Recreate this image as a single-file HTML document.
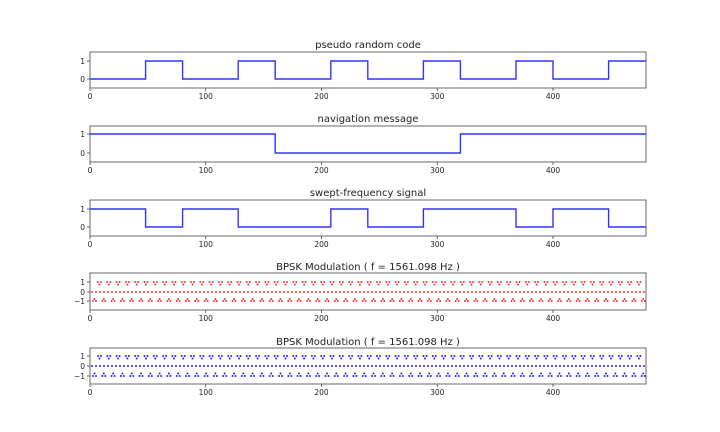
<!DOCTYPE html>
<html><head><meta charset="utf-8"><style>
body{margin:0;background:#fff}
svg{display:block}
text{font-family:"DejaVu Sans","Liberation Sans",sans-serif;fill:#222}
.t{font-size:10px;text-anchor:middle}
.k{font-size:7.5px}
.kx{text-anchor:middle}
.ky{text-anchor:end}
.box{fill:none;stroke:#444;stroke-width:0.8}
.sig{fill:none;stroke:#3333ff;stroke-width:1.4}
.tick{stroke:#444;stroke-width:0.8}
</style></head><body>
<svg width="720" height="432" viewBox="0 0 720 432" xmlns="http://www.w3.org/2000/svg">
<rect width="720" height="432" fill="#fff"/>
<defs>
<g id="xt">
<line class="tick" x1="90" y1="0" x2="90" y2="3"/>
<line class="tick" x1="205.75" y1="0" x2="205.75" y2="3"/>
<line class="tick" x1="321.5" y1="0" x2="321.5" y2="3"/>
<line class="tick" x1="437.25" y1="0" x2="437.25" y2="3"/>
<line class="tick" x1="553" y1="0" x2="553" y2="3"/>
</g>
</defs>

<text class="t" x="368" y="48">pseudo random code</text>
<rect class="box" x="90" y="52" width="556" height="36"/>
<path class="sig" d="M90,79 H145.6 V61 H182.6 V79 H238.2 V61 H275.2 V79 H330.8 V61 H367.8 V79 H423.4 V61 H460.4 V79 H516 V61 H553 V79 H608.6 V61 H646"/>
<g transform="translate(0,88)"><use href="#xt"/></g>
<text class="k ky" x="85" y="64">1</text><text class="k ky" x="85" y="82">0</text>
<line class="tick" x1="87" y1="61" x2="90" y2="61"/><line class="tick" x1="87" y1="79" x2="90" y2="79"/>
<g class="k kx"><text x="90" y="99">0</text><text x="205.75" y="99">100</text><text x="321.5" y="99">200</text><text x="437.25" y="99">300</text><text x="553" y="99">400</text></g>

<text class="t" x="368" y="122">navigation message</text>
<rect class="box" x="90" y="126" width="556" height="36"/>
<path class="sig" d="M90,134 H275.2 V153 H460.4 V134 H646"/>
<g transform="translate(0,162)"><use href="#xt"/></g>
<text class="k ky" x="85" y="137">1</text><text class="k ky" x="85" y="156">0</text>
<line class="tick" x1="87" y1="134" x2="90" y2="134"/><line class="tick" x1="87" y1="153" x2="90" y2="153"/>
<g class="k kx"><text x="90" y="173">0</text><text x="205.75" y="173">100</text><text x="321.5" y="173">200</text><text x="437.25" y="173">300</text><text x="553" y="173">400</text></g>

<text class="t" x="368" y="196">swept-frequency signal</text>
<rect class="box" x="90" y="200" width="556" height="36"/>
<path class="sig" d="M90,209 H145.6 V227 H182.6 V209 H238.2 V227 H330.8 V209 H367.8 V227 H423.4 V209 H516 V227 H553 V209 H608.6 V227 H646"/>
<g transform="translate(0,236)"><use href="#xt"/></g>
<text class="k ky" x="85" y="212">1</text><text class="k ky" x="85" y="230">0</text>
<line class="tick" x1="87" y1="209" x2="90" y2="209"/><line class="tick" x1="87" y1="227" x2="90" y2="227"/>
<g class="k kx"><text x="90" y="247">0</text><text x="205.75" y="247">100</text><text x="321.5" y="247">200</text><text x="437.25" y="247">300</text><text x="553" y="247">400</text></g>

<text class="t" x="368" y="270">BPSK Modulation ( f = 1561.098 Hz  )</text>
<rect class="box" x="90" y="273" width="556" height="37"/>
<g stroke="#ff3333" stroke-width="2" stroke-linecap="round" fill="none">
<line x1="92" y1="292" x2="646" y2="292" stroke-dasharray="0 4"/>
<line x1="98" y1="282" x2="646" y2="282" stroke-dasharray="0 3 0 6.3"/>
<line x1="99.5" y1="284.5" x2="646" y2="284.5" stroke-dasharray="0 9.3"/>
<line x1="93" y1="301" x2="646" y2="301" stroke-dasharray="0 3 0 6.3"/>
<line x1="94.5" y1="299" x2="646" y2="299" stroke-dasharray="0 9.3"/>
</g>
<g transform="translate(0,310)"><use href="#xt"/></g>
<text class="k ky" x="85" y="285">1</text><text class="k ky" x="85" y="295">0</text><text class="k ky" x="85" y="304">−1</text>
<line class="tick" x1="87" y1="282" x2="90" y2="282"/><line class="tick" x1="87" y1="292" x2="90" y2="292"/><line class="tick" x1="87" y1="301" x2="90" y2="301"/>
<g class="k kx"><text x="90" y="321">0</text><text x="205.75" y="321">100</text><text x="321.5" y="321">200</text><text x="437.25" y="321">300</text><text x="553" y="321">400</text></g>

<text class="t" x="368" y="345">BPSK Modulation ( f = 1561.098 Hz  )</text>
<rect class="box" x="90" y="348" width="556" height="36"/>
<g stroke="#2222ff" stroke-width="2" stroke-linecap="round" fill="none">
<line x1="92" y1="366" x2="646" y2="366" stroke-dasharray="0 4"/>
<line x1="98" y1="356" x2="646" y2="356" stroke-dasharray="0 3 0 6.3"/>
<line x1="99.5" y1="358.5" x2="646" y2="358.5" stroke-dasharray="0 9.3"/>
<line x1="93" y1="376" x2="646" y2="376" stroke-dasharray="0 3 0 6.3"/>
<line x1="94.5" y1="373.5" x2="646" y2="373.5" stroke-dasharray="0 9.3"/>
</g>
<g transform="translate(0,384)"><use href="#xt"/></g>
<text class="k ky" x="85" y="359">1</text><text class="k ky" x="85" y="369">0</text><text class="k ky" x="85" y="379">−1</text>
<line class="tick" x1="87" y1="356" x2="90" y2="356"/><line class="tick" x1="87" y1="366" x2="90" y2="366"/><line class="tick" x1="87" y1="376" x2="90" y2="376"/>
<g class="k kx"><text x="90" y="395">0</text><text x="205.75" y="395">100</text><text x="321.5" y="395">200</text><text x="437.25" y="395">300</text><text x="553" y="395">400</text></g>
</svg>
</body></html>
